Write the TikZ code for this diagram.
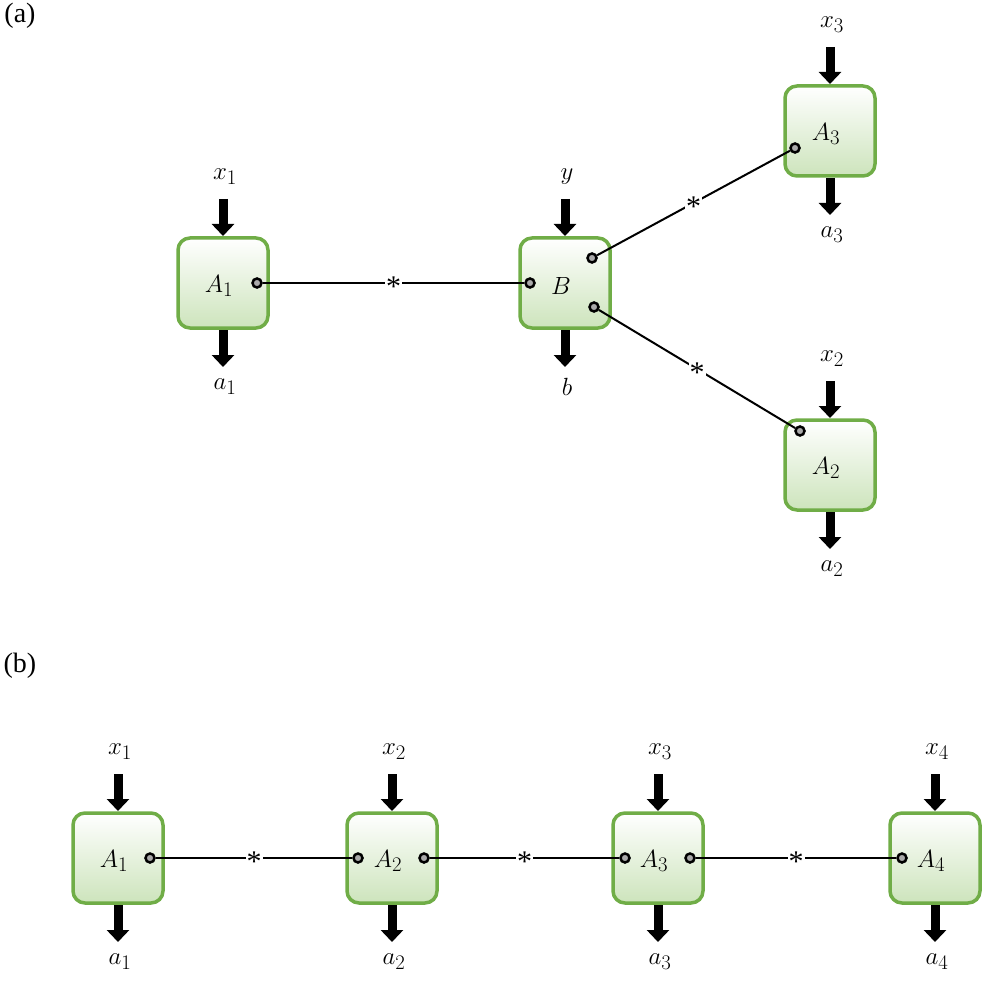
\documentclass[tikz,border=0pt]{standalone}
\usepackage{fontspec}
\setmainfont{Liberation Serif}
\usetikzlibrary{arrows.meta}
\begin{document}
\begin{tikzpicture}[x=1pt,y=-1pt,
 box/.style={draw=green!50!black!60!lime!80!gray, draw={rgb,255:red,112;green,173;blue,71}, line width=3.5pt, rounded corners=12pt, minimum size=90pt, top color=white, bottom color={rgb,255:red,205;green,228;blue,188}, inner sep=0pt},
 port/.style={circle, draw=black, fill={rgb,255:red,170;green,170;blue,170}, line width=2.5pt, minimum size=9pt, inner sep=0pt},
 io/.style={line width=9pt, -{Triangle[width=22pt,length=12pt]}},
 lab/.style={font=\fontsize{30}{30}\selectfont\itshape},
 link/.style={line width=2pt},
 star/.style={font=\fontsize{30}{30}\selectfont, fill=white, inner sep=1pt, yshift=-4pt}]
\useasboundingbox (0,0) rectangle (985,984);
\node[font=\fontsize{28}{28}\selectfont] (la) at (20,16) {(a)};
\node[font=\fontsize{28}{28}\selectfont] (lb) at (20,666) {(b)};
% (a)
\newcommand\blk[6]{% name, x, y, text, in, out
 \node[box] (#1) at (#2,#3) {};
 \node[lab,anchor=center] (#1t) at (#2-4,#3+3) {#4};
 \coordinate (#1i) at (#2,#3-84); \coordinate (#1ie) at (#2,#3-47);
 \coordinate (#1o) at (#2,#3+47); \coordinate (#1oe) at (#2,#3+84);
 \draw[io] (#1i) -- (#1ie);
 \draw[io] (#1o) -- (#1oe);
 \node[lab] (#1x) at (#2+2,#3-106) {#5};
 \node[lab] (#1a) at (#2+2,#3+104) {#6};}
\blk{A1}{223}{283}{$A_1$}{$x_1$}{$a_1$}
\blk{B}{565}{283}{$B$}{$y$}{$b$}
\blk{A3}{830}{131}{$A_3$}{$x_3$}{$a_3$}
\blk{A2}{830}{465}{$A_2$}{$x_2$}{$a_2$}
\node[port] (pA1) at (257,283) {};
\node[port] (pB1) at (530,283) {};
\node[port] (pB2) at (592,258) {};
\node[port] (pB3) at (594,307) {};
\node[port] (pA3) at (795,148) {};
\node[port] (pA2) at (800,431) {};
\draw[link] (pA1) -- node[star]{*} (pB1);
\draw[link] (pB2) -- node[star]{*} (pA3);
\draw[link] (pB3) -- node[star]{*} (pA2);
% (b)
\blk{C1}{118}{858}{$A_1$}{$x_1$}{$a_1$}
\blk{C2}{392}{858}{$A_2$}{$x_2$}{$a_2$}
\blk{C3}{658}{858}{$A_3$}{$x_3$}{$a_3$}
\blk{C4}{935}{858}{$A_4$}{$x_4$}{$a_4$}
\node[port] (q1) at (150,858) {};
\node[port] (q2l) at (358,858) {};
\node[port] (q2r) at (424,858) {};
\node[port] (q3l) at (625,858) {};
\node[port] (q3r) at (690,858) {};
\node[port] (q4l) at (902,858) {};
\draw[link] (q1) -- node[star]{*} (q2l);
\draw[link] (q2r) -- node[star]{*} (q3l);
\draw[link] (q3r) -- node[star]{*} (q4l);
\end{tikzpicture}
\end{document}
